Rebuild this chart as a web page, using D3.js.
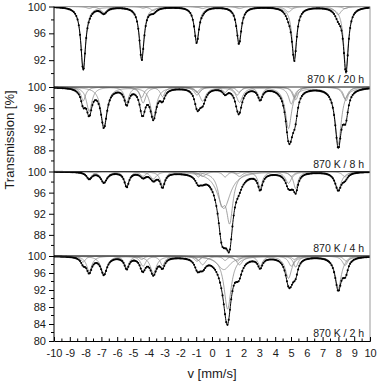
<!DOCTYPE html>
<html><head><meta charset="utf-8">
<script src="https://cdn.jsdelivr.net/npm/d3@7"></script>
<style>
body{margin:0;background:#fff}
svg{display:block}
text{font-family:"Liberation Sans",Arial,sans-serif;fill:#1a1a1a}
</style>
</head><body>
<svg id="chart" width="379" height="385"></svg>
<script>
// ---------- data ----------
const panelLabels = ["870 K / 20 h", "870 K / 8 h", "870 K / 4 h", "870 K / 2 h"];
const panelMin = [88, 84, 84, 80];
const yTickValues = [[100, 96, 92], [100, 96, 92, 88], [100, 96, 92, 88], [100, 96, 92, 88, 84, 80]];
const xTickValues = [-10, -9, -8, -7, -6, -5, -4, -3, -2, -1, 0, 1, 2, 3, 4, 5, 6, 7, 8, 9, 10];

// line positions of the fitted sub-spectra [mm/s]
const hematiteLines   = [-8.15, -4.45, -0.97, 1.71, 5.21, 8.48];
const magnetiteALines = [-7.77, -4.36, -0.95, 1.60, 5.02, 8.42];
const magnetiteBLines = [-6.84, -3.71, -0.59, 1.74, 4.84, 7.99];
const ironLines       = [-5.40, -3.13, -0.86, 0.83, 3.05, 5.30];
const wustiteLines    = [0.60, 1.12];
const singletLine     = [0.99];
const broadLine       = [0.75];

// line widths (FWHM, mm/s)
const widthHematite = 0.36, widthMagA = 0.42, widthMagB = 0.48, widthIron = 0.36;
const widthWustite = 0.5, widthSinglet = 0.55, widthBroad = 1.0;

// absorption depths [%] of each line, per spectrum
const hematite20h   = [9.4, 7.7, 5.2, 5.2, 7.7, 9.4];
const magnetiteB20h = [0.9, 0.6, 0.3, 0.3, 0.8, 1.2];
const magnetiteA20h = [0.3, 0.25, 0.1, 0.1, 0.25, 0.3];

const hematite8h    = [2.6, 2.0, 1.0, 1.0, 2.0, 2.6];
const magnetiteA8h  = [4.6, 3.0, 1.5, 1.5, 3.2, 2.2];
const magnetiteB8h  = [7.4, 5.6, 2.6, 2.8, 7.8, 10.8];
const iron8h        = [3.0, 1.8, 1.2, 1.0, 2.2, 2.4];

const magnetiteA4h  = [1.3, 0.9, 0.4, 0.4, 0.9, 1.0];
const magnetiteB4h  = [2.0, 1.4, 0.9, 0.9, 2.2, 3.4];
const iron4h        = [2.8, 2.7, 1.0, 1.0, 3.0, 3.2];
const wustite4h     = [5.0, 9.0];
const broad4h       = [7.0];

const hematite2h    = [1.4, 0.8, 0.4, 0.4, 0.8, 1.2];
const magnetiteA2h  = [3.6, 2.4, 1.2, 1.2, 2.4, 2.2];
const magnetiteB2h  = [4.2, 4.0, 2.0, 2.0, 5.2, 7.6];
const iron2h        = [2.8, 2.2, 1.0, 1.0, 2.4, 2.6];
const singlet2h     = [12.5];
const broad2h       = [3.2];

// ---------- table for drawing ----------
const panels = [
  {label: panelLabels[0], min: panelMin[0], ticks: yTickValues[0], comps: [
    {lines: hematiteLines, depth: hematite20h, w: widthHematite},
    {lines: magnetiteBLines, depth: magnetiteB20h, w: widthMagB},
    {lines: magnetiteALines, depth: magnetiteA20h, w: widthMagA}]},
  {label: panelLabels[1], min: panelMin[1], ticks: yTickValues[1], comps: [
    {lines: hematiteLines, depth: hematite8h, w: widthHematite},
    {lines: magnetiteALines, depth: magnetiteA8h, w: widthMagA},
    {lines: magnetiteBLines, depth: magnetiteB8h, w: widthMagB},
    {lines: ironLines, depth: iron8h, w: widthIron}]},
  {label: panelLabels[2], min: panelMin[2], ticks: yTickValues[2], comps: [
    {lines: magnetiteALines, depth: magnetiteA4h, w: widthMagA},
    {lines: magnetiteBLines, depth: magnetiteB4h, w: widthMagB},
    {lines: ironLines, depth: iron4h, w: widthIron},
    {lines: wustiteLines, depth: wustite4h, w: widthWustite},
    {lines: broadLine, depth: broad4h, w: widthBroad}]},
  {label: panelLabels[3], min: panelMin[3], ticks: yTickValues[3], comps: [
    {lines: hematiteLines, depth: hematite2h, w: widthHematite},
    {lines: magnetiteALines, depth: magnetiteA2h, w: widthMagA},
    {lines: magnetiteBLines, depth: magnetiteB2h, w: widthMagB},
    {lines: ironLines, depth: iron2h, w: widthIron},
    {lines: singletLine, depth: singlet2h, w: widthSinglet},
    {lines: broadLine, depth: broad2h, w: widthBroad}]}
];

// ---------- layout ----------
const svg = d3.select("#chart");
const left = 54, right = 370;
const panelTops = [6.5, 87, 171.5, 256, 341];
const fmt = d => String(d);

const x = d3.scaleLinear().domain([-10, 10]).range([left, right]);

function lorentz(v, c, w, d) { const g = w / 2; return d * g * g / ((v - c) * (v - c) + g * g); }
function compAbs(comp, v) { let s = 0; comp.lines.forEach((c, i) => { s += lorentz(v, c, comp.w, comp.depth[i]); }); return s; }

const fine = d3.range(-10, 10.0001, 0.02);
const channels = d3.range(0, 256).map(i => -10 + i * 20 / 255);

panels.forEach((p, k) => {
  const y = d3.scaleLinear().domain([p.min, 100]).range([panelTops[k + 1], panelTops[k]]);
  const g = svg.append("g");
  const clipId = "clip" + k;
  svg.append("clipPath").attr("id", clipId).append("rect")
    .attr("x", left).attr("y", panelTops[k] - 1).attr("width", right - left).attr("height", panelTops[k + 1] - panelTops[k] + 1);
  const plot = g.append("g").attr("clip-path", `url(#${clipId})`);

  const line = d3.line().x(d => x(d[0])).y(d => y(d[1]));
  p.comps.forEach(c => {
    plot.append("path").attr("d", line(fine.map(v => [v, 100 - compAbs(c, v)])))
      .attr("fill", "none").attr("stroke", "#8a8a8a").attr("stroke-width", 0.8);
  });
  const total = v => 100 - d3.sum(p.comps, c => compAbs(c, v));
  plot.append("path").attr("d", line(fine.map(v => [v, total(v)])))
    .attr("fill", "none").attr("stroke", "#000").attr("stroke-width", 1);
  plot.selectAll("circle").data(channels).enter().append("circle")
    .attr("cx", v => x(v)).attr("cy", v => y(total(v))).attr("r", 1.05).attr("fill", "#000");

  const yAxis = d3.axisLeft(y).tickValues(p.ticks).tickSize(5).tickPadding(3).tickFormat(fmt);
  const ga = g.append("g").attr("transform", `translate(${left},0)`).call(yAxis);
  ga.select(".domain").remove();
  ga.selectAll("text").attr("font-size", 11).style("font-family", '"Liberation Sans",Arial,sans-serif');
  const minor = d3.range(p.min + 2, 100, 4);
  g.selectAll(".minor").data(minor).enter().append("line")
    .attr("x1", left - 3).attr("x2", left).attr("y1", d => y(d)).attr("y2", d => y(d)).attr("stroke", "#000");

  g.append("line").attr("x1", left).attr("x2", right).attr("y1", y(100)).attr("y2", y(100))
    .attr("stroke", k === 0 ? "#9a9a9a" : "#333").attr("stroke-width", 1);

  g.append("text").attr("x", 364).attr("y", panelTops[k + 1] - 4).attr("text-anchor", "end")
    .attr("font-size", 10.5).text(p.label);
});

svg.append("line").attr("x1", left).attr("x2", left).attr("y1", panelTops[0]).attr("y2", panelTops[4]).attr("stroke", "#000");
svg.append("line").attr("x1", right).attr("x2", right).attr("y1", panelTops[0]).attr("y2", panelTops[4]).attr("stroke", "#999");

const xAxis = d3.axisBottom(x).tickValues(xTickValues).tickSize(-4).tickPadding(8).tickFormat(fmt);
const gx = svg.append("g").attr("transform", `translate(0,${panelTops[4]})`).call(xAxis);
gx.select(".domain").attr("stroke", "#000");
gx.selectAll("text").attr("font-size", 11).style("font-family", '"Liberation Sans",Arial,sans-serif');
svg.append("g").selectAll("line").data(d3.range(-9.5, 10, 1)).enter().append("line")
  .attr("x1", d => x(d)).attr("x2", d => x(d)).attr("y1", panelTops[4]).attr("y2", panelTops[4] - 2.5).attr("stroke", "#000");

svg.append("text").attr("x", 212).attr("y", 378).attr("text-anchor", "middle").attr("font-size", 13).text("v [mm/s]");
svg.append("text").attr("transform", "translate(14,140) rotate(-90)").attr("text-anchor", "middle").attr("font-size", 13).text("Transmission [%]");
</script>
</body></html>
